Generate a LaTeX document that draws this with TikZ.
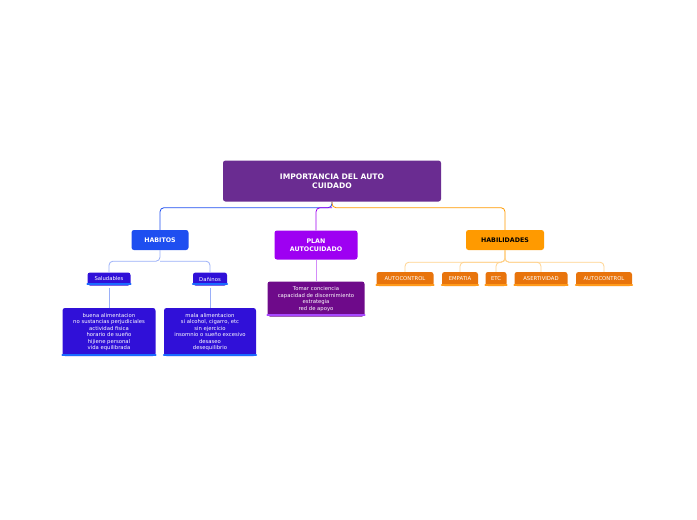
\documentclass[tikz,border=0pt]{standalone}
\usepackage{fontspec}
\setmainfont{DejaVu Sans}
\begin{document}
\begin{tikzpicture}[x=1pt,y=-1pt,
 box/.style={rounded corners=2.5pt,inner sep=0pt,align=center,text=white,font=\fontsize{5.3}{6.4}\selectfont},
 bar/.style={line width=2pt,line cap=round},
 con/.style={line width=0.8pt,rounded corners=4pt}]
\definecolor{tit}{HTML}{6A2C91}
\definecolor{hab}{HTML}{1E4EF0}
\definecolor{pla}{HTML}{9E00F2}
\definecolor{hbl}{HTML}{FF9A00}
\definecolor{sub}{HTML}{3010D8}
\definecolor{subbar}{HTML}{1A6BFF}
\definecolor{pch}{HTML}{6E0A8A}
\definecolor{pbar}{HTML}{A848FF}
\definecolor{och}{HTML}{E8740C}
\definecolor{obar}{HTML}{FF9A1A}
\useasboundingbox (0,0) rectangle (697,520);
\node[box,fill=tit,minimum width=218,minimum height=41,font=\bfseries\fontsize{7.6}{9}\selectfont] (t) at (332,181) {IMPORTANCIA DEL AUTO\\CUIDADO};
\node[box,fill=hab,minimum width=57,minimum height=20,font=\bfseries\fontsize{6.3}{7.5}\selectfont] (h) at (160,240) {HABITOS};
\node[box,fill=pla,minimum width=83,minimum height=29,font=\bfseries\fontsize{6.3}{7.5}\selectfont] (p) at (316,245) {PLAN\\AUTOCUIDADO};
\node[box,fill=hbl,text=black,minimum width=78,minimum height=20,font=\bfseries\fontsize{6.3}{7.5}\selectfont] (b) at (505,240) {HABILIDADES};
\draw[con,hab] (t.south) -- ++(0,6) -| (h.north);
\draw[con,hbl] (t.south) -- ++(0,6) -| (b.north);
\draw[con,pla] (t.south) ++(0,6) -| (p.north);
% habitos children
\node[box,fill=sub,minimum width=43,minimum height=13] (s) at (109,279) {Saludables};
\node[box,fill=sub,minimum width=34,minimum height=13] (d) at (210,279) {Dañinos};
\node[box,fill=sub,minimum width=93,minimum height=48] (s1) at (109,332) {buena alimentacion\\no sustancias perjudiciales\\actividad fisica\\horario de sueño\\hijiene personal\\vida equilibrada};
\node[box,fill=sub,minimum width=92,minimum height=48] (d1) at (210,332) {mala alimentacion\\si alcohol, cigarro, etc\\sin ejercicio\\insomnio o sueño excesivo\\desaseo\\desequilibrio};
\draw[con,color=hab!45] (h.south) -- ++(0,11) -| (s.north);
\draw[con,color=hab!45] (h.south) ++(0,11) -| (d.north);
\draw[con,color=hab!45] (s.south) ++(0,2) -- (s1.north);
\draw[con,color=hab!45] (d.south) ++(0,2) -- (d1.north);
\foreach \n in {s,d,s1,d1} \draw[bar,subbar] ([yshift=1.5pt]\n.south west) -- ([yshift=1.5pt]\n.south east);
% plan child
\node[box,fill=pch,minimum width=97,minimum height=35] (p1) at (316,299) {Tomar conciencia\\capacidad de discernimiento\\estrategia\\red de apoyo};
\draw[con,color=pla!45] (p.south) -- (p1.north);
\draw[bar,pbar] ([yshift=1.5pt]p1.south west) -- ([yshift=1.5pt]p1.south east);
% habilidades children
\foreach \n/\x/\w/\l in {o1/405/57/AUTOCONTROL,o2/460/36/EMPATIA,o3/496/21/ETC,o4/541/53/ASERTIVIDAD,o5/604/56/AUTOCONTROL}{
 \node[box,fill=och,minimum width=\w,minimum height=14] (\n) at (\x,279) {\l};
 \draw[con,color=hbl!45] (b.south) -- ++(0,12) -| (\n.north);
 \draw[bar,obar] ([yshift=1.5pt]\n.south west) -- ([yshift=1.5pt]\n.south east);
}
\end{tikzpicture}
\end{document}
